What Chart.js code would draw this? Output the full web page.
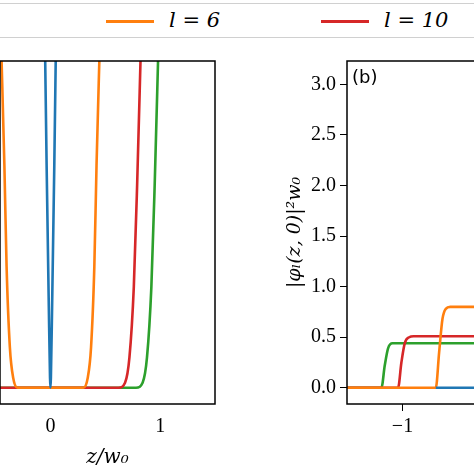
<!DOCTYPE html>
<html><head><meta charset="utf-8">
<script src="https://cdn.jsdelivr.net/npm/chart.js@4"></script>
<style>
body{margin:0;width:474px;height:474px;overflow:hidden;background:#fff;position:relative;font-family:"Liberation Serif",serif}
canvas{position:absolute}
#leg{position:absolute;left:-60px;top:3px;width:620px;height:33px;border:1.5px solid #d0d0d0;border-radius:3px;background:#fff}
.it{position:absolute;top:4px;font-size:21px;font-style:italic;font-family:"DejaVu Serif",serif;white-space:nowrap}
.ln{position:absolute;top:16px;width:48px;height:3px}
</style></head><body>
<div id="leg">
<div class="it" style="left:6px">l = 2</div>
<div class="ln" style="left:165px;background:#ff7f0e"></div><div class="it" style="left:228px">l = 6</div>
<div class="ln" style="left:380px;background:#d62728"></div><div class="it" style="left:443px">l = 10</div>
</div>
<div id="w1" style="position:absolute;left:-40px;top:0;width:256px;height:474px"><canvas id="c1"></canvas></div>
<div id="w2" style="position:absolute;left:280px;top:0;width:400px;height:474px"><canvas id="c2"></canvas></div>
<script>
const colors=['#1f77b4','#ff7f0e','#d62728','#2ca02c'];
const labels=['l = 2','l = 6','l = 10','l = 14'];
// left panel (potential walls)
const leftBlueX=[-0.05,-0.035,-0.015,-0.004,0,0.004,0.015,0.035,0.05];
const leftBlueY=[3.4,2.2,0.8,0.1,0,0.1,0.8,2.2,3.4];
const leftOrangeX=[-0.45,-0.42,-0.40,-0.37,-0.34,-0.30,0,0.30,0.34,0.37,0.40,0.42,0.45];
const leftOrangeY=[3.4,2.2,1.2,0.4,0.1,0,0,0,0.1,0.4,1.2,2.2,3.4];
const leftRedX=[-0.5,0.62,0.68,0.72,0.76,0.79,0.825];
const leftRedY=[0,0,0.05,0.3,1.0,2.0,3.4];
const leftGreenX=[-0.5,0.78,0.84,0.88,0.92,0.95,0.985];
const leftGreenY=[0,0,0.05,0.3,1.0,2.0,3.4];
// right panel (densities)
const rightBlueX=[-0.7,-0.3];
const rightBlueY=[0,0];
const rightOrangeX=[-1.5,-0.70,-0.67,-0.64,-0.61,-0.57,-0.3];
const rightOrangeY=[0,0,0.35,0.68,0.78,0.8,0.8];
const rightRedX=[-1.5,-1.04,-1.01,-0.98,-0.94,-0.9,-0.3];
const rightRedY=[0,0,0.25,0.44,0.5,0.51,0.51];
const rightGreenX=[-1.5,-1.19,-1.16,-1.13,-1.09,-1.05,-0.3];
const rightGreenY=[0,0,0.22,0.39,0.44,0.44,0.44];
const yTicks=[0,0.5,1,1.5,2,2.5,3];

const pts=(xs,ys)=>xs.map((x,i)=>({x,y:ys[i]}));
const ds=(sets)=>sets.map((s,i)=>({label:labels[i],data:pts(s[0],s[1]),borderColor:colors[i],borderWidth:2.6,pointRadius:0,fill:false,cubicInterpolationMode:'monotone'}));
const frame={id:'frame',afterDraw(c){const a=c.chartArea,g=c.ctx;g.save();g.strokeStyle='#000';g.lineWidth=1.5;g.strokeRect(a.left,a.top,a.right-a.left,a.bottom-a.top);g.restore();}};
const tickFont={family:'"Liberation Serif", serif',size:20};
Chart.defaults.animation=false;
new Chart(document.getElementById('c1'),{type:'line',
 data:{datasets:ds([[leftBlueX,leftBlueY],[leftOrangeX,leftOrangeY],[leftRedX,leftRedY],[leftGreenX,leftGreenY]])},
 options:{responsive:true,maintainAspectRatio:false,layout:{padding:{top:61,right:1,left:40,bottom:0}},
  plugins:{legend:{display:false},tooltip:{enabled:false}},
  scales:{x:{type:'linear',min:-0.46,max:1.5,afterBuildTicks(s){s.ticks=[{value:0},{value:1}]},
     ticks:{color:'#000',font:tickFont,padding:4,callback:v=>v==0?'0':'1'},grid:{display:false,drawOnChartArea:false,drawTicks:true,tickLength:7,color:'#000'},border:{display:false},
     title:{display:true,text:'z/w₀',color:'#000',font:{family:'"DejaVu Serif", serif',size:20,style:'italic'},padding:{top:0}},
     afterFit(s){s.height=70}},
   y:{display:false,min:-0.16,max:3.23}}},
 plugins:[frame]});
new Chart(document.getElementById('c2'),{type:'line',
 data:{datasets:ds([[rightBlueX,rightBlueY],[rightOrangeX,rightOrangeY],[rightRedX,rightRedY],[rightGreenX,rightGreenY]])},
 options:{responsive:true,maintainAspectRatio:false,layout:{padding:{top:61,right:0,left:0,bottom:0}},
  plugins:{legend:{display:false},tooltip:{enabled:false}},
  scales:{x:{type:'linear',min:-1.5,max:1.5,afterBuildTicks(s){s.ticks=[{value:-1},{value:0},{value:1}]},
     ticks:{color:'#000',font:tickFont,padding:4,callback:v=>v<0?'−1':String(v)},grid:{drawOnChartArea:false,tickLength:7,color:'#000'},border:{display:false},
     afterFit(s){s.height=70}},
   y:{min:-0.16,max:3.23,afterBuildTicks(s){s.ticks=yTicks.map(v=>({value:v}))},
     ticks:{color:'#000',font:tickFont,padding:4,callback:v=>v.toFixed(1)},grid:{drawOnChartArea:false,tickLength:7,color:'#000'},border:{display:false},
     title:{display:true,text:'|φₗ(z, 0)|²w₀',color:'#000',font:{family:'"DejaVu Serif", serif',size:19,style:'italic'},padding:{bottom:2}},
     afterFit(s){s.width=67}}}},
 plugins:[frame,{id:'lbl',afterDraw(c){const g=c.ctx;g.save();g.font='18px "DejaVu Sans", sans-serif';g.fillStyle='#000';g.fillText('(b)',c.chartArea.left+5,c.chartArea.top+22);g.restore();}}]});
</script></body></html>
